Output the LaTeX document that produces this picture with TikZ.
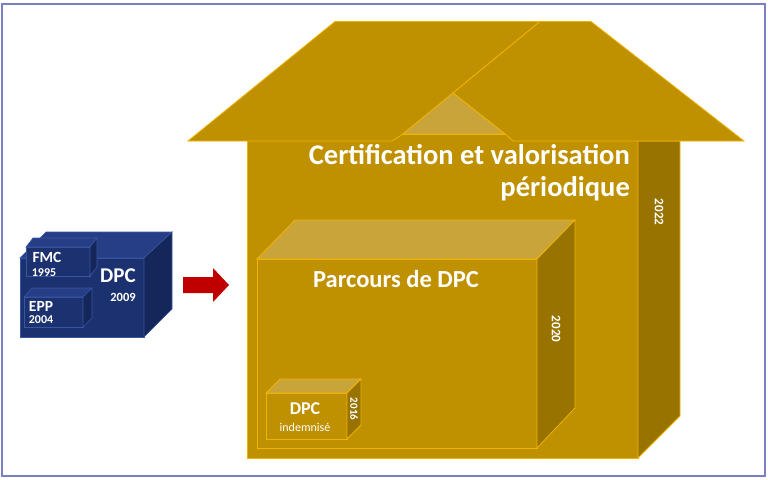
\documentclass[tikz,border=0pt]{standalone}
\usepackage{fontspec}
\setmainfont{Carlito}
\definecolor{gold}{HTML}{BF9000}
\definecolor{goldlight}{HTML}{C9A43B}
\definecolor{golddark}{HTML}{997300}
\definecolor{goldedge}{HTML}{F0B400}
\definecolor{navy}{HTML}{1C3270}
\definecolor{navytop}{HTML}{263E86}
\definecolor{navyside}{HTML}{14265A}
\definecolor{navyedge}{HTML}{3A56A0}
\definecolor{framec}{HTML}{7A7EC4}
\definecolor{arrowred}{HTML}{C00000}
\begin{document}
\begin{tikzpicture}[x=1pt,y=-1pt,line join=miter,
  gface/.style={fill=gold,draw=goldedge,line width=0.8pt},
  gtop/.style={fill=goldlight,draw=goldedge,line width=0.8pt},
  gside/.style={fill=golddark,draw=goldedge,line width=0.8pt},
  nface/.style={fill=navy,draw=navyedge,line width=0.6pt},
  ntop/.style={fill=navytop,draw=navyedge,line width=0.6pt},
  nside/.style={fill=navyside,draw=navyedge,line width=0.6pt},
  wtxt/.style={text=white,inner sep=0pt,font=\bfseries},
  yeartxt/.style={wtxt,rotate=-90}]
\useasboundingbox (0,0) rectangle (768,479);
\draw[framec,line width=1.5pt] (2,4) rectangle (765,476);

% house body
\draw[gface] (247,134) rectangle (638,458);
\draw[gside] (638,141) -- (680,141) -- (680,416) -- (638,458) -- cycle;
% roof
\draw[gface] (188,141) -- (335,21.5) -- (540,21.5) -- (453,93) -- (403,134) -- (392,141) -- cycle;
\draw[gface] (540,21.5) -- (591,21.5) -- (744,141) -- (513,141) -- (505,134) -- (453,93) -- cycle;
\draw[gtop] (403,134) -- (453,93) -- (505,134) -- cycle;

% Parcours box
\draw[gface] (257,259) rectangle (537,448);
\draw[gtop] (257,259) -- (295,220) -- (575,220) -- (537,259) -- cycle;
\draw[gside] (537,259) -- (575,220) -- (575,408) -- (537,448) -- cycle;

% small DPC box
\draw[gface] (266,393) rectangle (347,439);
\draw[gtop] (266,393) -- (280,379) -- (361,379) -- (347,393) -- cycle;
\draw[gside] (347,393) -- (361,379) -- (361,425) -- (347,439) -- cycle;

% navy DPC box
\draw[nface] (20,258) rectangle (144,337);
\draw[ntop] (20,258) -- (46,232) -- (172,232) -- (144,258) -- cycle;
\draw[nside] (144,258) -- (172,232) -- (172,309) -- (144,337) -- cycle;
% FMC
\draw[nface] (26,247) rectangle (90,276);
\draw[ntop] (26,247) -- (33,238) -- (97,238) -- (90,247) -- cycle;
\draw[nside] (90,247) -- (97,238) -- (97,267) -- (90,276) -- cycle;
% EPP
\draw[nface] (24,297) rectangle (83,327);
\draw[ntop] (24,297) -- (32,288) -- (92,288) -- (83,297) -- cycle;
\draw[nside] (83,297) -- (92,288) -- (92,318) -- (83,327) -- cycle;

% red arrow
\fill[arrowred] (183,277) -- (213,277) -- (213,268) -- (229,285) -- (213,302) -- (213,293) -- (183,293) -- cycle;

% texts
\node[wtxt,anchor=base east,font=\bfseries\fontsize{28.5}{33}\selectfont] (cert1) at (630,164) {Certification et valorisation};
\node[wtxt,anchor=base east,font=\bfseries\fontsize{28.5}{33}\selectfont] (cert2) at (630,196) {périodique};
\node[yeartxt,font=\bfseries\fontsize{13}{15}\selectfont] (y2022) at (659,212) {2022};
\node[wtxt,font=\bfseries\fontsize{24.5}{28}\selectfont] (parc) at (396,279) {Parcours de DPC};
\node[yeartxt,font=\bfseries\fontsize{13}{15}\selectfont] (y2020) at (556,329) {2020};
\node[wtxt,font=\bfseries\fontsize{18}{21}\selectfont] (dpcs) at (305,409) {DPC};
\node[wtxt,font=\fontsize{12}{14}\selectfont] (indem) at (305,427) {indemnisé};
\node[yeartxt,font=\bfseries\fontsize{11}{13}\selectfont] (y2016) at (354,409) {2016};
\node[wtxt,font=\bfseries\fontsize{21}{24}\selectfont] (dpcn) at (118,276) {DPC};
\node[wtxt,font=\bfseries\fontsize{12.5}{14}\selectfont] (y2009) at (123,297) {2009};
\node[wtxt,font=\bfseries\fontsize{15.5}{18}\selectfont] (fmc) at (47,257) {FMC};
\node[wtxt,font=\bfseries\fontsize{12}{14}\selectfont] (y1995) at (44,273) {1995};
\node[wtxt,font=\bfseries\fontsize{15.5}{18}\selectfont] (epp) at (41,306) {EPP};
\node[wtxt,font=\bfseries\fontsize{12}{14}\selectfont] (y2004) at (41,320) {2004};
\end{tikzpicture}
\end{document}
